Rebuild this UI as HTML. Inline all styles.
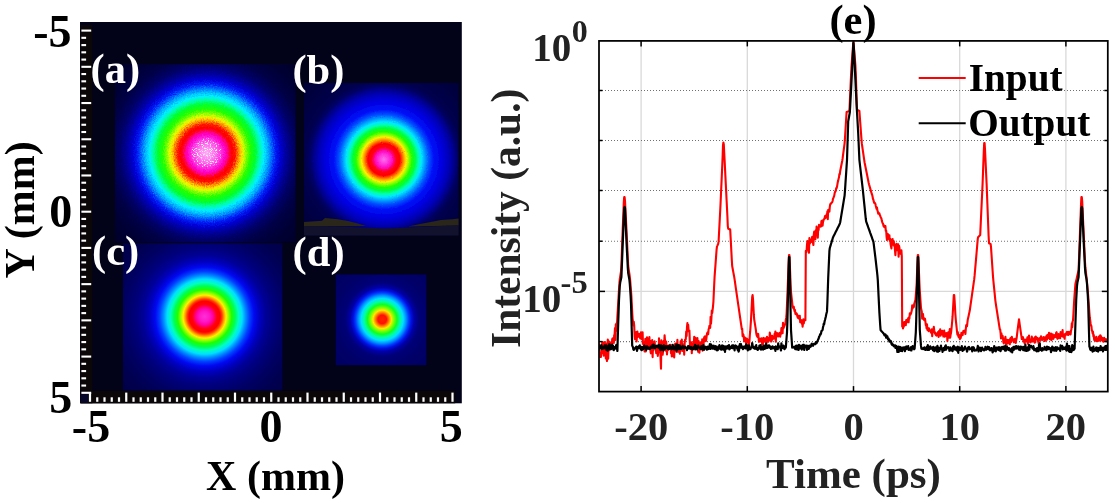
<!DOCTYPE html>
<html><head><meta charset="utf-8"><title>Beam profiles and autocorrelation</title>
<style>
html,body{margin:0;padding:0;background:#fff;}
body{width:1115px;height:503px;overflow:hidden;}
svg{display:block;}
text{font-family:"Liberation Serif","Times New Roman",serif;font-weight:bold;}
.k{fill:#000;}
.g{fill:#222;}
.w{fill:#fff;}
</style></head><body>
<svg width="1115" height="503" viewBox="0 0 1115 503">
<defs>
<radialGradient id="ga" gradientUnits="userSpaceOnUse" cx="206.5" cy="153.2" r="135.0"><stop offset="0.0000" stop-color="#ffb0f6"/><stop offset="0.0593" stop-color="#ff78f0"/><stop offset="0.1037" stop-color="#ff38e4"/><stop offset="0.1407" stop-color="#ff00c8"/><stop offset="0.1593" stop-color="#ff0088"/><stop offset="0.1741" stop-color="#ff0028"/><stop offset="0.1889" stop-color="#ff0000"/><stop offset="0.2111" stop-color="#ff1000"/><stop offset="0.2333" stop-color="#ff7000"/><stop offset="0.2556" stop-color="#ffd000"/><stop offset="0.2741" stop-color="#e0ff00"/><stop offset="0.2963" stop-color="#80ff00"/><stop offset="0.3259" stop-color="#20ff00"/><stop offset="0.3630" stop-color="#00ff30"/><stop offset="0.3926" stop-color="#00ffa0"/><stop offset="0.4222" stop-color="#00f0ff"/><stop offset="0.4556" stop-color="#00b0ff"/><stop offset="0.4852" stop-color="#0060ff"/><stop offset="0.5148" stop-color="#0018f4"/><stop offset="0.5481" stop-color="#0000d0"/><stop offset="0.5926" stop-color="#000098"/><stop offset="0.6444" stop-color="#000068"/><stop offset="0.7185" stop-color="#000046"/><stop offset="0.8296" stop-color="#000032"/><stop offset="1.0000" stop-color="#000024"/></radialGradient>
<radialGradient id="gb" gradientUnits="userSpaceOnUse" cx="383.9" cy="159.5" r="110.0"><stop offset="0.0000" stop-color="#ff70ec"/><stop offset="0.0364" stop-color="#ff40e0"/><stop offset="0.0727" stop-color="#ff10c8"/><stop offset="0.0955" stop-color="#ff0070"/><stop offset="0.1136" stop-color="#ff0010"/><stop offset="0.1455" stop-color="#ff0000"/><stop offset="0.1636" stop-color="#ff5000"/><stop offset="0.1864" stop-color="#ffb000"/><stop offset="0.2045" stop-color="#fff000"/><stop offset="0.2273" stop-color="#90ff00"/><stop offset="0.2545" stop-color="#20ff00"/><stop offset="0.2864" stop-color="#00ff40"/><stop offset="0.3136" stop-color="#00ffb0"/><stop offset="0.3409" stop-color="#00e8ff"/><stop offset="0.3727" stop-color="#00a0ff"/><stop offset="0.4091" stop-color="#0050ff"/><stop offset="0.4545" stop-color="#0010f8"/><stop offset="0.5273" stop-color="#0000e0"/><stop offset="0.5909" stop-color="#0000b8"/><stop offset="0.6364" stop-color="#00008c"/><stop offset="0.6727" stop-color="#000064"/><stop offset="0.7182" stop-color="#00004e"/><stop offset="0.8636" stop-color="#000040"/><stop offset="1.0000" stop-color="#000036"/></radialGradient>
<radialGradient id="gc" gradientUnits="userSpaceOnUse" cx="204.6" cy="316.6" r="120.0"><stop offset="0.0000" stop-color="#ff30d8"/><stop offset="0.0417" stop-color="#ff18c8"/><stop offset="0.0708" stop-color="#ff00a0"/><stop offset="0.0875" stop-color="#ff0050"/><stop offset="0.1042" stop-color="#ff0008"/><stop offset="0.1292" stop-color="#ff0000"/><stop offset="0.1458" stop-color="#ff4000"/><stop offset="0.1625" stop-color="#ffa000"/><stop offset="0.1792" stop-color="#fff000"/><stop offset="0.2000" stop-color="#90ff00"/><stop offset="0.2250" stop-color="#20ff00"/><stop offset="0.2542" stop-color="#00ff50"/><stop offset="0.2833" stop-color="#00ffc0"/><stop offset="0.3125" stop-color="#00e0ff"/><stop offset="0.3417" stop-color="#0090ff"/><stop offset="0.3750" stop-color="#0040ff"/><stop offset="0.4125" stop-color="#0008f0"/><stop offset="0.4583" stop-color="#0000c0"/><stop offset="0.5083" stop-color="#000098"/><stop offset="0.5750" stop-color="#00007c"/><stop offset="0.6667" stop-color="#000064"/><stop offset="0.7917" stop-color="#000050"/><stop offset="1.0000" stop-color="#000040"/></radialGradient>
<radialGradient id="gd" gradientUnits="userSpaceOnUse" cx="382.2" cy="319.4" r="70.0"><stop offset="0.0000" stop-color="#ff2000"/><stop offset="0.0614" stop-color="#ff1000"/><stop offset="0.0971" stop-color="#ff8000"/><stop offset="0.1314" stop-color="#ffe800"/><stop offset="0.1671" stop-color="#80ff00"/><stop offset="0.2114" stop-color="#10ff20"/><stop offset="0.2557" stop-color="#00ffa0"/><stop offset="0.3000" stop-color="#00e0ff"/><stop offset="0.3429" stop-color="#0090ff"/><stop offset="0.3786" stop-color="#0040ff"/><stop offset="0.4143" stop-color="#0010e0"/><stop offset="0.4571" stop-color="#0000a8"/><stop offset="0.5286" stop-color="#000078"/><stop offset="0.6857" stop-color="#000068"/><stop offset="1.0000" stop-color="#00005e"/></radialGradient>
<clipPath id="ca"><rect x="115" y="64.3" width="180.5" height="178"/></clipPath>
<clipPath id="cb"><rect x="304" y="83" width="154.6" height="152.4"/></clipPath>
<clipPath id="cp"><rect x="599.0" y="39.9" width="508.79999999999995" height="351.70000000000005"/></clipPath>
<filter id="nz" x="0" y="0" width="100%" height="100%"><feTurbulence type="fractalNoise" baseFrequency="0.9" numOctaves="1" seed="3" result="t"/><feDisplacementMap in="SourceGraphic" in2="t" scale="7" xChannelSelector="R" yChannelSelector="G"/></filter>
<filter id="spk" x="-10%" y="-10%" width="120%" height="120%"><feTurbulence type="fractalNoise" baseFrequency="0.85" numOctaves="1" seed="11" result="t"/><feColorMatrix in="t" type="matrix" values="0 0 0 0 1  0 0 0 0 1  0 0 0 0 1  9 0 0 0 -4.9" result="m"/><feComposite in="m" in2="SourceGraphic" operator="in"/></filter>
<filter id="nz2" x="0" y="0" width="100%" height="100%"><feTurbulence type="fractalNoise" baseFrequency="0.8" numOctaves="1" seed="5" result="t"/><feDisplacementMap in="SourceGraphic" in2="t" scale="2.5" xChannelSelector="R" yChannelSelector="G"/></filter>
</defs>
<rect width="1115" height="503" fill="#fff"/>
<!-- left panel -->
<rect x="80" y="22" width="381.8" height="381.3" fill="#020218"/>
<g clip-path="url(#ca)"><g filter="url(#nz)"><rect x="100" y="50" width="210" height="210" fill="url(#ga)"/></g></g>
<circle cx="206.5" cy="153.2" r="15" fill="#fff" filter="url(#spk)" opacity="0.9"/>
<g clip-path="url(#cb)"><g filter="url(#nz2)"><rect x="290" y="70" width="185" height="180" fill="url(#gb)"/></g>
<path d="M304 222 L322 220.8 L325 218 L338 219.3 L348 221 L357 223.2 L366 226 L304 226.5Z" fill="#2a2619"/>
<path d="M408 226.5 L420 224 L432 221.8 L441 220 L452 219.2 L459 218.6 L459 225.5Z" fill="#2a2619"/>
<path d="M304 226 Q345 226 384 228.6 Q425 226.5 459 225.2 L459 236 L304 236Z" fill="#12122c"/>
</g>
<rect x="123" y="243.3" width="159.4" height="147.4" fill="url(#gc)"/>
<rect x="335.7" y="274.5" width="90.7" height="90.7" fill="url(#gd)"/>
<rect x="80.6" y="25" width="11.8" height="378.3" fill="#0b0709"/>
<rect x="80.6" y="390.8" width="374.6" height="12.5" fill="#0b0709"/>
<rect x="80.6" y="394.2" width="7.4" height="8.4" fill="#07072a"/>
<g fill="#fff">
<rect x="81.4" y="29.55" width="9.8" height="2.1"/>
<rect x="81.4" y="36.79" width="4.7" height="2.1"/>
<rect x="81.4" y="44.04" width="4.7" height="2.1"/>
<rect x="81.4" y="51.28" width="4.7" height="2.1"/>
<rect x="81.4" y="58.53" width="4.7" height="2.1"/>
<rect x="81.4" y="65.77" width="9.8" height="2.1"/>
<rect x="81.4" y="73.01" width="4.7" height="2.1"/>
<rect x="81.4" y="80.26" width="4.7" height="2.1"/>
<rect x="81.4" y="87.50" width="4.7" height="2.1"/>
<rect x="81.4" y="94.75" width="4.7" height="2.1"/>
<rect x="81.4" y="101.99" width="9.8" height="2.1"/>
<rect x="81.4" y="109.23" width="4.7" height="2.1"/>
<rect x="81.4" y="116.48" width="4.7" height="2.1"/>
<rect x="81.4" y="123.72" width="4.7" height="2.1"/>
<rect x="81.4" y="130.97" width="4.7" height="2.1"/>
<rect x="81.4" y="138.21" width="9.8" height="2.1"/>
<rect x="81.4" y="145.45" width="4.7" height="2.1"/>
<rect x="81.4" y="152.70" width="4.7" height="2.1"/>
<rect x="81.4" y="159.94" width="4.7" height="2.1"/>
<rect x="81.4" y="167.19" width="4.7" height="2.1"/>
<rect x="81.4" y="174.43" width="9.8" height="2.1"/>
<rect x="81.4" y="181.67" width="4.7" height="2.1"/>
<rect x="81.4" y="188.92" width="4.7" height="2.1"/>
<rect x="81.4" y="196.16" width="4.7" height="2.1"/>
<rect x="81.4" y="203.41" width="4.7" height="2.1"/>
<rect x="81.4" y="210.65" width="9.8" height="2.1"/>
<rect x="81.4" y="217.89" width="4.7" height="2.1"/>
<rect x="81.4" y="225.14" width="4.7" height="2.1"/>
<rect x="81.4" y="232.38" width="4.7" height="2.1"/>
<rect x="81.4" y="239.63" width="4.7" height="2.1"/>
<rect x="81.4" y="246.87" width="9.8" height="2.1"/>
<rect x="81.4" y="254.11" width="4.7" height="2.1"/>
<rect x="81.4" y="261.36" width="4.7" height="2.1"/>
<rect x="81.4" y="268.60" width="4.7" height="2.1"/>
<rect x="81.4" y="275.85" width="4.7" height="2.1"/>
<rect x="81.4" y="283.09" width="9.8" height="2.1"/>
<rect x="81.4" y="290.33" width="4.7" height="2.1"/>
<rect x="81.4" y="297.58" width="4.7" height="2.1"/>
<rect x="81.4" y="304.82" width="4.7" height="2.1"/>
<rect x="81.4" y="312.07" width="4.7" height="2.1"/>
<rect x="81.4" y="319.31" width="9.8" height="2.1"/>
<rect x="81.4" y="326.55" width="4.7" height="2.1"/>
<rect x="81.4" y="333.80" width="4.7" height="2.1"/>
<rect x="81.4" y="341.04" width="4.7" height="2.1"/>
<rect x="81.4" y="348.29" width="4.7" height="2.1"/>
<rect x="81.4" y="355.53" width="9.8" height="2.1"/>
<rect x="81.4" y="362.77" width="4.7" height="2.1"/>
<rect x="81.4" y="370.02" width="4.7" height="2.1"/>
<rect x="81.4" y="377.26" width="4.7" height="2.1"/>
<rect x="81.4" y="384.51" width="4.7" height="2.1"/>
<rect x="81.4" y="391.75" width="9.8" height="2.1"/>
<rect x="88.90" y="392.6" width="2.2" height="9.2"/>
<rect x="96.15" y="397.3" width="2.2" height="4.5"/>
<rect x="103.40" y="397.3" width="2.2" height="4.5"/>
<rect x="110.65" y="397.3" width="2.2" height="4.5"/>
<rect x="117.90" y="397.3" width="2.2" height="4.5"/>
<rect x="125.15" y="392.6" width="2.2" height="9.2"/>
<rect x="132.40" y="397.3" width="2.2" height="4.5"/>
<rect x="139.65" y="397.3" width="2.2" height="4.5"/>
<rect x="146.90" y="397.3" width="2.2" height="4.5"/>
<rect x="154.15" y="397.3" width="2.2" height="4.5"/>
<rect x="161.40" y="392.6" width="2.2" height="9.2"/>
<rect x="168.65" y="397.3" width="2.2" height="4.5"/>
<rect x="175.90" y="397.3" width="2.2" height="4.5"/>
<rect x="183.15" y="397.3" width="2.2" height="4.5"/>
<rect x="190.40" y="397.3" width="2.2" height="4.5"/>
<rect x="197.65" y="392.6" width="2.2" height="9.2"/>
<rect x="204.90" y="397.3" width="2.2" height="4.5"/>
<rect x="212.15" y="397.3" width="2.2" height="4.5"/>
<rect x="219.40" y="397.3" width="2.2" height="4.5"/>
<rect x="226.65" y="397.3" width="2.2" height="4.5"/>
<rect x="233.90" y="392.6" width="2.2" height="9.2"/>
<rect x="241.15" y="397.3" width="2.2" height="4.5"/>
<rect x="248.40" y="397.3" width="2.2" height="4.5"/>
<rect x="255.65" y="397.3" width="2.2" height="4.5"/>
<rect x="262.90" y="397.3" width="2.2" height="4.5"/>
<rect x="270.15" y="392.6" width="2.2" height="9.2"/>
<rect x="277.40" y="397.3" width="2.2" height="4.5"/>
<rect x="284.65" y="397.3" width="2.2" height="4.5"/>
<rect x="291.90" y="397.3" width="2.2" height="4.5"/>
<rect x="299.15" y="397.3" width="2.2" height="4.5"/>
<rect x="306.40" y="392.6" width="2.2" height="9.2"/>
<rect x="313.65" y="397.3" width="2.2" height="4.5"/>
<rect x="320.90" y="397.3" width="2.2" height="4.5"/>
<rect x="328.15" y="397.3" width="2.2" height="4.5"/>
<rect x="335.40" y="397.3" width="2.2" height="4.5"/>
<rect x="342.65" y="392.6" width="2.2" height="9.2"/>
<rect x="349.90" y="397.3" width="2.2" height="4.5"/>
<rect x="357.15" y="397.3" width="2.2" height="4.5"/>
<rect x="364.40" y="397.3" width="2.2" height="4.5"/>
<rect x="371.65" y="397.3" width="2.2" height="4.5"/>
<rect x="378.90" y="392.6" width="2.2" height="9.2"/>
<rect x="386.15" y="397.3" width="2.2" height="4.5"/>
<rect x="393.40" y="397.3" width="2.2" height="4.5"/>
<rect x="400.65" y="397.3" width="2.2" height="4.5"/>
<rect x="407.90" y="397.3" width="2.2" height="4.5"/>
<rect x="415.15" y="392.6" width="2.2" height="9.2"/>
<rect x="422.40" y="397.3" width="2.2" height="4.5"/>
<rect x="429.65" y="397.3" width="2.2" height="4.5"/>
<rect x="436.90" y="397.3" width="2.2" height="4.5"/>
<rect x="444.15" y="397.3" width="2.2" height="4.5"/>
<rect x="451.40" y="392.6" width="2.2" height="9.2"/>
</g>
<g class="w" font-size="42.5">
<text x="90.6" y="82.8" class="w">(a)</text>
<text x="292.4" y="83.7" class="w">(b)</text>
<text x="92" y="265.2" class="w">(c)</text>
<text x="292.6" y="265.8" class="w">(d)</text>
</g>
<g class="k" font-size="46">
<text x="71.5" y="47.3" text-anchor="end">-5</text>
<text x="72.3" y="227.3" text-anchor="end">0</text>
<text x="72.3" y="412.5" text-anchor="end">5</text>
<text x="91" y="442.2" text-anchor="middle">-5</text>
<text x="271" y="442.2" text-anchor="middle">0</text>
<text x="451.3" y="442.2" text-anchor="middle">5</text>
</g>
<text class="k" font-size="42" x="275.5" y="489.5" text-anchor="middle">X (mm)</text>
<text class="k" font-size="42" transform="translate(34.1 209.8) rotate(-90)" text-anchor="middle">Y (mm)</text>
<!-- right panel -->
<g>
<line x1="641.1" y1="40.9" x2="641.1" y2="391.6" stroke="#d9d9d9" stroke-width="1.3"/>
<line x1="747.3" y1="40.9" x2="747.3" y2="391.6" stroke="#d9d9d9" stroke-width="1.3"/>
<line x1="853.5" y1="40.9" x2="853.5" y2="391.6" stroke="#d9d9d9" stroke-width="1.3"/>
<line x1="959.7" y1="40.9" x2="959.7" y2="391.6" stroke="#d9d9d9" stroke-width="1.3"/>
<line x1="1065.9" y1="40.9" x2="1065.9" y2="391.6" stroke="#d9d9d9" stroke-width="1.3"/>
<line x1="599.0" y1="90.5" x2="1107.8" y2="90.5" stroke="#707070" stroke-width="1.05" stroke-dasharray="1 2"/>
<line x1="599.0" y1="140.5" x2="1107.8" y2="140.5" stroke="#707070" stroke-width="1.05" stroke-dasharray="1 2"/>
<line x1="599.0" y1="190.5" x2="1107.8" y2="190.5" stroke="#707070" stroke-width="1.05" stroke-dasharray="1 2"/>
<line x1="599.0" y1="241.2" x2="1107.8" y2="241.2" stroke="#707070" stroke-width="1.05" stroke-dasharray="1 2"/>
<line x1="599.0" y1="291.4" x2="1107.8" y2="291.4" stroke="#d9d9d9" stroke-width="1.3"/>
<line x1="599.0" y1="341.6" x2="1107.8" y2="341.6" stroke="#707070" stroke-width="1.05" stroke-dasharray="1 2"/>
</g>
<g clip-path="url(#cp)" fill="none" stroke-linejoin="round" stroke-linecap="round">
<path d="M598.6 351.3 L599.0 355.5 L599.4 344.6 L599.8 356.5 L600.2 353.9 L600.6 357.0 L601.0 356.8 L601.4 352.7 L601.8 353.4 L602.2 342.3 L602.6 344.2 L603.0 346.0 L603.4 349.3 L603.8 355.7 L604.2 342.1 L604.6 349.4 L605.0 344.4 L605.4 343.2 L605.8 358.4 L606.2 351.2 L606.6 358.4 L607.0 361.0 L607.4 344.6 L607.8 339.5 L608.2 358.6 L608.6 345.7 L609.0 341.5 L609.4 350.2 L609.8 347.5 L610.2 342.2 L610.6 342.9 L611.0 344.6 L611.4 343.2 L611.8 345.7 L612.2 339.3 L612.6 338.4 L613.0 342.3 L613.4 339.9 L613.8 342.9 L614.2 335.1 L614.6 334.6 L615.0 328.0 L615.4 340.0 L615.8 324.3 L616.2 331.0 L616.6 323.2 L617.0 323.8 L617.4 316.3 L617.8 309.5 L618.2 302.8 L618.6 296.0 L619.0 289.6 L619.4 283.2 L619.8 278.8 L620.2 276.3 L620.6 273.8 L621.0 271.3 L621.4 264.6 L621.8 253.7 L622.2 242.9 L622.6 232.0 L623.0 222.0 L623.4 212.0 L623.8 202.0 L624.2 197.0 L624.6 197.0 L625.0 200.9 L625.4 208.7 L625.8 216.4 L626.2 224.2 L626.6 232.0 L627.0 240.5 L627.4 249.0 L627.8 257.5 L628.2 266.0 L628.6 268.7 L629.0 271.3 L629.4 274.0 L629.8 276.7 L630.2 280.6 L630.6 285.7 L631.0 290.9 L631.4 296.0 L631.8 304.0 L632.2 312.0 L632.6 318.8 L633.0 322.0 L633.4 325.4 L633.8 321.9 L634.2 325.5 L634.6 336.0 L635.0 339.2 L635.4 335.1 L635.8 335.2 L636.2 332.0 L636.6 341.5 L637.0 335.3 L637.4 331.6 L637.8 335.0 L638.2 336.7 L638.6 334.0 L639.0 336.6 L639.4 336.9 L639.8 333.8 L640.2 338.4 L640.6 336.8 L641.0 332.3 L641.4 338.5 L641.8 339.0 L642.2 338.0 L642.6 332.4 L643.0 344.0 L643.4 343.9 L643.8 344.0 L644.2 342.9 L644.6 351.4 L645.0 342.6 L645.4 338.7 L645.8 351.4 L646.2 340.8 L646.6 345.8 L647.0 337.2 L647.4 338.9 L647.8 341.7 L648.2 346.9 L648.6 346.4 L649.0 345.5 L649.4 337.1 L649.8 349.2 L650.2 340.7 L650.6 352.1 L651.0 353.3 L651.4 348.9 L651.8 349.8 L652.2 340.0 L652.6 357.1 L653.0 346.8 L653.4 350.4 L653.8 342.4 L654.2 346.0 L654.6 341.3 L655.0 345.6 L655.4 346.8 L655.8 348.1 L656.2 353.1 L656.6 349.1 L657.0 348.1 L657.4 347.2 L657.8 355.9 L658.2 351.9 L658.6 352.3 L659.0 338.4 L659.4 343.2 L659.8 348.9 L660.2 346.4 L660.6 360.3 L661.0 368.7 L661.4 340.4 L661.8 342.4 L662.2 346.5 L662.6 354.8 L663.0 352.1 L663.4 348.6 L663.8 340.9 L664.2 343.4 L664.6 335.3 L665.0 340.4 L665.4 349.1 L665.8 350.7 L666.2 341.5 L666.6 347.7 L667.0 354.4 L667.4 347.9 L667.8 345.9 L668.2 349.9 L668.6 349.6 L669.0 347.6 L669.4 344.9 L669.8 345.4 L670.2 347.7 L670.6 344.9 L671.0 353.2 L671.4 351.2 L671.8 356.4 L672.2 356.2 L672.6 354.3 L673.0 353.6 L673.4 349.0 L673.8 346.5 L674.2 357.5 L674.6 344.4 L675.0 344.6 L675.4 343.5 L675.8 348.3 L676.2 349.2 L676.6 351.9 L677.0 346.4 L677.4 339.8 L677.8 348.8 L678.2 351.7 L678.6 347.6 L679.0 346.8 L679.4 349.9 L679.8 353.7 L680.2 347.2 L680.6 341.2 L681.0 345.0 L681.4 346.7 L681.8 339.5 L682.2 350.9 L682.6 344.1 L683.0 349.7 L683.4 348.3 L683.8 346.1 L684.2 354.7 L684.6 344.1 L685.0 339.8 L685.4 340.2 L685.8 338.9 L686.2 331.5 L686.6 336.0 L687.0 327.1 L687.4 323.0 L687.8 331.3 L688.2 324.9 L688.6 330.6 L689.0 330.9 L689.4 330.5 L689.8 341.2 L690.2 348.4 L690.6 343.0 L691.0 344.5 L691.4 342.2 L691.8 353.2 L692.2 344.5 L692.6 349.8 L693.0 343.4 L693.4 347.5 L693.8 344.4 L694.2 336.7 L694.6 347.4 L695.0 349.3 L695.4 337.7 L695.8 346.1 L696.2 344.9 L696.6 342.0 L697.0 345.6 L697.4 338.1 L697.8 347.7 L698.2 351.8 L698.6 341.0 L699.0 346.2 L699.4 352.7 L699.8 346.9 L700.2 344.1 L700.6 342.3 L701.0 347.0 L701.4 347.3 L701.8 348.9 L702.2 339.4 L702.6 350.8 L703.0 349.4 L703.4 347.7 L703.8 340.6 L704.2 337.0 L704.6 339.1 L705.0 336.3 L705.4 337.8 L705.8 341.2 L706.2 340.0 L706.6 336.6 L707.0 333.6 L707.4 332.6 L707.8 334.0 L708.2 334.2 L708.6 329.3 L709.0 328.6 L709.4 325.9 L709.8 327.1 L710.2 327.8 L710.6 316.9 L711.0 323.6 L711.4 318.3 L711.8 310.6 L712.2 313.1 L712.6 309.8 L713.0 306.5 L713.4 301.8 L713.8 293.2 L714.2 284.5 L714.6 276.6 L715.0 271.2 L715.4 265.8 L715.8 260.4 L716.2 254.9 L716.6 249.5 L717.0 246.4 L717.4 245.6 L717.8 244.7 L718.2 243.9 L718.6 241.4 L719.0 233.7 L719.4 226.1 L719.8 218.5 L720.2 210.8 L720.6 202.5 L721.0 193.6 L721.4 184.6 L721.8 175.7 L722.2 166.7 L722.6 157.1 L723.0 145.4 L723.4 142.5 L723.8 144.4 L724.2 152.2 L724.6 160.0 L725.0 168.0 L725.4 176.1 L725.8 184.1 L726.2 192.2 L726.6 200.2 L727.0 208.3 L727.4 216.3 L727.8 226.1 L728.2 228.7 L728.6 228.9 L729.0 229.0 L729.4 229.2 L729.8 229.3 L730.2 229.5 L730.6 237.1 L731.0 244.7 L731.4 252.3 L731.8 259.9 L732.2 266.1 L732.6 268.3 L733.0 270.5 L733.4 272.6 L733.8 274.8 L734.2 276.9 L734.6 279.4 L735.0 282.2 L735.4 285.0 L735.8 287.8 L736.2 290.6 L736.6 293.4 L737.0 296.2 L737.4 298.9 L737.8 301.7 L738.2 304.4 L738.6 307.2 L739.0 309.9 L739.4 312.7 L739.8 315.4 L740.2 318.2 L740.6 320.9 L741.0 323.7 L741.4 326.4 L741.8 329.2 L742.2 328.7 L742.6 336.2 L743.0 334.0 L743.4 334.7 L743.8 337.4 L744.2 341.3 L744.6 337.3 L745.0 341.5 L745.4 341.1 L745.8 338.4 L746.2 343.8 L746.6 340.2 L747.0 338.8 L747.4 340.1 L747.8 340.1 L748.2 342.6 L748.6 339.8 L749.0 344.1 L749.4 341.5 L749.8 335.4 L750.2 331.2 L750.6 325.6 L751.0 320.0 L751.4 312.3 L751.8 304.6 L752.2 296.9 L752.6 295.0 L753.0 298.8 L753.4 306.5 L753.8 314.2 L754.2 319.3 L754.6 321.8 L755.0 324.3 L755.4 326.8 L755.8 329.3 L756.2 332.8 L756.6 335.1 L757.0 336.0 L757.4 336.8 L757.8 335.2 L758.2 333.9 L758.6 338.5 L759.0 341.8 L759.4 341.3 L759.8 338.9 L760.2 341.5 L760.6 338.9 L761.0 340.9 L761.4 338.4 L761.8 340.2 L762.2 344.6 L762.6 341.7 L763.0 343.4 L763.4 337.9 L763.8 338.0 L764.2 339.6 L764.6 341.0 L765.0 339.1 L765.4 342.0 L765.8 338.2 L766.2 342.8 L766.6 341.8 L767.0 336.7 L767.4 340.8 L767.8 338.8 L768.2 341.8 L768.6 338.0 L769.0 340.0 L769.4 340.5 L769.8 332.6 L770.2 334.6 L770.6 339.4 L771.0 338.8 L771.4 341.5 L771.8 339.6 L772.2 335.8 L772.6 339.4 L773.0 336.6 L773.4 337.6 L773.8 336.6 L774.2 338.4 L774.6 333.9 L775.0 334.4 L775.4 331.5 L775.8 341.7 L776.2 333.9 L776.6 334.0 L777.0 333.0 L777.4 334.0 L777.8 334.2 L778.2 336.5 L778.6 335.2 L779.0 335.3 L779.4 332.9 L779.8 333.8 L780.2 336.7 L780.6 333.5 L781.0 334.0 L781.4 328.1 L781.8 333.3 L782.2 331.8 L782.6 333.3 L783.0 322.7 L783.4 328.5 L783.8 327.2 L784.2 326.8 L784.6 324.2 L785.0 324.9 L785.4 323.8 L785.8 320.0 L786.2 317.7 L786.6 313.6 L787.0 304.2 L787.4 294.7 L787.8 284.6 L788.2 273.8 L788.6 263.1 L789.0 255.0 L789.4 255.0 L789.8 263.1 L790.2 273.8 L790.6 284.6 L791.0 291.8 L791.4 295.5 L791.8 299.2 L792.2 302.8 L792.6 306.5 L793.0 307.3 L793.4 308.3 L793.8 306.8 L794.2 309.5 L794.6 311.4 L795.0 310.0 L795.4 313.9 L795.8 312.8 L796.2 314.4 L796.6 313.5 L797.0 314.3 L797.4 316.6 L797.8 317.7 L798.2 318.1 L798.6 315.9 L799.0 317.0 L799.4 318.9 L799.8 315.7 L800.2 322.1 L800.6 321.1 L801.0 321.1 L801.4 320.1 L801.8 323.7 L802.2 322.0 L802.6 326.6 L803.0 323.3 L803.4 319.2 L803.8 323.3 L804.2 320.4 L804.6 320.1 L805.0 320.3 L805.4 320.2 L805.8 250.9 L806.2 252.5 L806.6 250.5 L807.0 244.6 L807.4 241.1 L807.8 242.9 L808.2 247.5 L808.6 249.2 L809.0 252.8 L809.4 238.0 L809.8 243.7 L810.2 241.7 L810.6 240.3 L811.0 242.1 L811.4 239.7 L811.8 239.0 L812.2 236.7 L812.6 240.7 L813.0 243.0 L813.4 245.0 L813.8 234.7 L814.2 231.6 L814.6 234.6 L815.0 231.4 L815.4 239.1 L815.8 230.2 L816.2 233.6 L816.6 226.5 L817.0 230.4 L817.4 232.2 L817.8 237.6 L818.2 228.8 L818.6 230.3 L819.0 224.7 L819.4 225.7 L819.8 225.7 L820.2 225.6 L820.6 226.7 L821.0 226.4 L821.4 221.1 L821.8 224.6 L822.2 220.6 L822.6 225.7 L823.0 221.9 L823.4 220.8 L823.8 219.4 L824.2 219.0 L824.6 218.3 L825.0 216.1 L825.4 218.2 L825.8 216.5 L826.2 216.7 L826.6 214.3 L827.0 215.1 L827.4 211.4 L827.8 219.3 L828.2 210.0 L828.6 209.8 L829.0 211.8 L829.4 211.6 L829.8 206.8 L830.2 204.3 L830.6 204.1 L831.0 203.6 L831.4 202.7 L831.8 202.6 L832.2 202.3 L832.6 201.0 L833.0 198.7 L833.4 198.0 L833.8 196.9 L834.2 195.9 L834.6 193.6 L835.0 192.0 L835.4 191.5 L835.8 190.7 L836.2 188.1 L836.6 188.3 L837.0 186.8 L837.4 184.3 L837.8 182.0 L838.2 180.6 L838.6 178.7 L839.0 177.3 L839.4 174.0 L839.8 174.4 L840.2 171.0 L840.6 169.0 L841.0 167.0 L841.4 165.0 L841.8 163.0 L842.2 161.0 L842.6 158.5 L843.0 155.4 L843.4 152.4 L843.8 149.3 L844.2 146.3 L844.6 143.3 L845.0 137.7 L845.4 131.3 L845.8 124.8 L846.2 118.4 L846.6 112.0 L847.0 111.9 L847.4 111.7 L847.8 111.6 L848.2 111.4 L848.6 111.3 L849.0 111.1 L849.4 111.0 L849.8 102.3 L850.2 93.6 L850.6 84.9 L851.0 76.2 L851.4 67.5 L851.8 62.2 L852.2 56.9 L852.6 51.6 L853.0 46.3 L853.4 41.0 L853.8 45.8 L854.2 50.6 L854.6 55.5 L855.0 60.3 L855.4 65.1 L855.8 73.5 L856.2 85.6 L856.6 97.6 L857.0 109.7 L857.4 109.9 L857.8 110.1 L858.2 110.3 L858.6 110.6 L859.0 110.8 L859.4 111.0 L859.8 116.5 L860.2 122.0 L860.6 127.4 L861.0 132.9 L861.4 138.4 L861.8 143.2 L862.2 146.0 L862.6 148.8 L863.0 151.6 L863.4 154.3 L863.8 157.1 L864.2 159.9 L864.6 162.5 L865.0 164.5 L865.4 166.5 L865.8 168.5 L866.2 170.5 L866.6 172.5 L867.0 174.5 L867.4 176.5 L867.8 178.5 L868.2 180.5 L868.6 182.5 L869.0 184.2 L869.4 185.6 L869.8 187.0 L870.2 188.4 L870.6 189.8 L871.0 191.2 L871.4 192.6 L871.8 194.0 L872.2 194.9 L872.6 196.7 L873.0 199.0 L873.4 199.8 L873.8 201.7 L874.2 202.9 L874.6 202.7 L875.0 203.2 L875.4 204.0 L875.8 205.9 L876.2 207.4 L876.6 208.9 L877.0 207.6 L877.4 210.4 L877.8 211.5 L878.2 213.6 L878.6 212.8 L879.0 213.6 L879.4 213.4 L879.8 215.0 L880.2 215.8 L880.6 216.9 L881.0 217.9 L881.4 218.4 L881.8 220.6 L882.2 222.0 L882.6 223.3 L883.0 223.6 L883.4 225.5 L883.8 226.5 L884.2 225.4 L884.6 227.4 L885.0 227.6 L885.4 226.0 L885.8 230.9 L886.2 230.7 L886.6 237.1 L887.0 240.0 L887.4 235.2 L887.8 233.9 L888.2 234.9 L888.6 236.2 L889.0 239.1 L889.4 235.4 L889.8 240.9 L890.2 238.9 L890.6 244.3 L891.0 246.2 L891.4 248.4 L891.8 242.6 L892.2 239.3 L892.6 239.0 L893.0 244.7 L893.4 241.6 L893.8 241.2 L894.2 246.0 L894.6 244.2 L895.0 250.4 L895.4 255.1 L895.8 247.9 L896.2 250.1 L896.6 243.8 L897.0 250.3 L897.4 247.6 L897.8 246.5 L898.2 244.2 L898.6 256.6 L899.0 245.7 L899.4 247.5 L899.8 252.1 L900.2 253.4 L900.6 253.8 L901.0 253.5 L901.4 250.3 L901.8 256.4 L902.2 326.6 L902.6 323.3 L903.0 328.5 L903.4 324.7 L903.8 326.7 L904.2 322.0 L904.6 322.2 L905.0 322.9 L905.4 322.4 L905.8 325.2 L906.2 320.1 L906.6 322.6 L907.0 319.7 L907.4 321.6 L907.8 320.3 L908.2 318.1 L908.6 322.3 L909.0 317.4 L909.4 318.6 L909.8 313.4 L910.2 314.8 L910.6 314.4 L911.0 313.6 L911.4 311.9 L911.8 310.3 L912.2 305.4 L912.6 308.5 L913.0 306.5 L913.4 306.4 L913.8 307.0 L914.2 304.1 L914.6 302.8 L915.0 301.4 L915.4 300.0 L915.8 295.0 L916.2 290.0 L916.6 285.0 L917.0 274.1 L917.4 263.2 L917.8 255.0 L918.2 255.0 L918.6 262.6 L919.0 272.8 L919.4 282.9 L919.8 290.9 L920.2 296.6 L920.6 302.3 L921.0 308.0 L921.4 309.9 L921.8 311.8 L922.2 318.8 L922.6 316.0 L923.0 314.1 L923.4 318.5 L923.8 318.0 L924.2 320.1 L924.6 319.7 L925.0 318.8 L925.4 321.5 L925.8 325.2 L926.2 325.3 L926.6 328.3 L927.0 324.3 L927.4 329.9 L927.8 328.0 L928.2 328.5 L928.6 331.1 L929.0 328.3 L929.4 329.4 L929.8 330.5 L930.2 330.8 L930.6 331.4 L931.0 332.7 L931.4 331.3 L931.8 329.4 L932.2 336.1 L932.6 330.9 L933.0 332.0 L933.4 329.8 L933.8 326.9 L934.2 330.2 L934.6 332.3 L935.0 333.6 L935.4 332.8 L935.8 334.7 L936.2 335.4 L936.6 335.6 L937.0 333.6 L937.4 333.8 L937.8 333.2 L938.2 331.8 L938.6 336.9 L939.0 331.1 L939.4 333.7 L939.8 334.4 L940.2 329.2 L940.6 335.6 L941.0 333.2 L941.4 334.6 L941.8 333.4 L942.2 330.8 L942.6 334.6 L943.0 334.5 L943.4 336.5 L943.8 335.4 L944.2 330.6 L944.6 336.8 L945.0 336.2 L945.4 336.2 L945.8 335.6 L946.2 333.0 L946.6 335.8 L947.0 333.8 L947.4 341.0 L947.8 334.2 L948.2 332.3 L948.6 334.0 L949.0 337.8 L949.4 333.3 L949.8 329.1 L950.2 337.6 L950.6 334.9 L951.0 333.0 L951.4 329.7 L951.8 325.5 L952.2 321.2 L952.6 316.2 L953.0 309.2 L953.4 302.1 L953.8 295.0 L954.2 295.0 L954.6 300.3 L955.0 307.4 L955.4 314.5 L955.8 319.9 L956.2 323.7 L956.6 327.5 L957.0 331.3 L957.4 334.5 L957.8 332.0 L958.2 335.4 L958.6 337.1 L959.0 335.4 L959.4 335.1 L959.8 339.0 L960.2 335.8 L960.6 338.2 L961.0 336.4 L961.4 332.8 L961.8 333.4 L962.2 334.3 L962.6 335.1 L963.0 332.5 L963.4 330.9 L963.8 331.3 L964.2 331.8 L964.6 330.7 L965.0 330.9 L965.4 334.0 L965.8 329.1 L966.2 325.1 L966.6 324.9 L967.0 326.3 L967.4 322.6 L967.8 319.4 L968.2 317.7 L968.6 315.9 L969.0 314.1 L969.4 312.3 L969.8 310.3 L970.2 307.5 L970.6 304.7 L971.0 301.9 L971.4 299.1 L971.8 296.3 L972.2 293.4 L972.6 290.6 L973.0 287.8 L973.4 285.0 L973.8 282.2 L974.2 279.4 L974.6 275.7 L975.0 271.0 L975.4 266.4 L975.8 261.8 L976.2 257.1 L976.6 252.5 L977.0 247.8 L977.4 243.2 L977.8 238.6 L978.2 237.1 L978.6 236.7 L979.0 236.3 L979.4 235.8 L979.8 235.4 L980.2 235.0 L980.6 226.4 L981.0 217.8 L981.4 209.3 L981.8 200.7 L982.2 192.1 L982.6 183.5 L983.0 172.7 L983.4 161.9 L983.8 151.1 L984.2 143.0 L984.6 143.0 L985.0 149.4 L985.4 157.9 L985.8 166.4 L986.2 175.0 L986.6 183.5 L987.0 193.9 L987.4 204.3 L987.8 214.8 L988.2 225.2 L988.6 235.6 L989.0 243.3 L989.4 243.5 L989.8 243.6 L990.2 243.8 L990.6 243.9 L991.0 247.0 L991.4 252.9 L991.8 258.8 L992.2 264.7 L992.6 270.6 L993.0 276.5 L993.4 281.0 L993.8 284.9 L994.2 288.9 L994.6 292.9 L995.0 296.8 L995.4 300.8 L995.8 303.7 L996.2 306.3 L996.6 308.9 L997.0 311.4 L997.4 314.0 L997.8 316.6 L998.2 319.1 L998.6 321.7 L999.0 324.3 L999.4 326.9 L999.8 329.4 L1000.2 329.7 L1000.6 333.0 L1001.0 338.4 L1001.4 333.3 L1001.8 336.9 L1002.2 335.8 L1002.6 335.7 L1003.0 338.5 L1003.4 342.4 L1003.8 343.4 L1004.2 339.3 L1004.6 340.1 L1005.0 339.2 L1005.4 336.8 L1005.8 342.2 L1006.2 344.0 L1006.6 343.9 L1007.0 339.9 L1007.4 343.5 L1007.8 343.0 L1008.2 340.1 L1008.6 340.7 L1009.0 340.0 L1009.4 341.2 L1009.8 344.3 L1010.2 338.8 L1010.6 338.2 L1011.0 342.3 L1011.4 340.6 L1011.8 336.7 L1012.2 338.4 L1012.6 338.8 L1013.0 339.2 L1013.4 341.0 L1013.8 342.3 L1014.2 340.0 L1014.6 340.6 L1015.0 338.8 L1015.4 342.3 L1015.8 342.9 L1016.2 340.0 L1016.6 338.3 L1017.0 335.0 L1017.4 331.7 L1017.8 328.5 L1018.2 325.5 L1018.6 322.4 L1019.0 319.4 L1019.4 322.2 L1019.8 325.1 L1020.2 327.9 L1020.6 330.7 L1021.0 333.5 L1021.4 336.2 L1021.8 339.0 L1022.2 338.9 L1022.6 338.1 L1023.0 337.1 L1023.4 341.5 L1023.8 340.2 L1024.2 341.5 L1024.6 343.4 L1025.0 339.6 L1025.4 341.6 L1025.8 339.8 L1026.2 340.5 L1026.6 341.3 L1027.0 340.2 L1027.4 337.3 L1027.8 343.6 L1028.2 340.7 L1028.6 337.9 L1029.0 335.6 L1029.4 340.1 L1029.8 341.5 L1030.2 342.2 L1030.6 342.4 L1031.0 339.2 L1031.4 341.3 L1031.8 336.6 L1032.2 340.1 L1032.6 341.6 L1033.0 338.4 L1033.4 339.3 L1033.8 339.8 L1034.2 339.8 L1034.6 342.6 L1035.0 337.1 L1035.4 342.1 L1035.8 336.6 L1036.2 337.8 L1036.6 337.5 L1037.0 338.9 L1037.4 338.0 L1037.8 340.0 L1038.2 338.9 L1038.6 343.5 L1039.0 339.6 L1039.4 338.2 L1039.8 339.5 L1040.2 339.9 L1040.6 338.2 L1041.0 336.2 L1041.4 336.7 L1041.8 338.8 L1042.2 340.1 L1042.6 339.3 L1043.0 338.0 L1043.4 339.3 L1043.8 337.1 L1044.2 338.6 L1044.6 341.0 L1045.0 340.3 L1045.4 340.7 L1045.8 337.0 L1046.2 338.2 L1046.6 335.6 L1047.0 339.6 L1047.4 336.7 L1047.8 334.7 L1048.2 336.4 L1048.6 337.9 L1049.0 332.7 L1049.4 334.3 L1049.8 339.3 L1050.2 337.3 L1050.6 336.9 L1051.0 333.6 L1051.4 340.2 L1051.8 338.9 L1052.2 338.2 L1052.6 334.2 L1053.0 337.7 L1053.4 338.8 L1053.8 335.6 L1054.2 335.7 L1054.6 335.1 L1055.0 337.3 L1055.4 335.4 L1055.8 335.2 L1056.2 332.7 L1056.6 332.2 L1057.0 337.5 L1057.4 338.8 L1057.8 337.2 L1058.2 338.3 L1058.6 334.1 L1059.0 335.0 L1059.4 335.8 L1059.8 334.6 L1060.2 338.3 L1060.6 332.0 L1061.0 333.4 L1061.4 333.8 L1061.8 333.0 L1062.2 336.1 L1062.6 330.1 L1063.0 336.6 L1063.4 336.0 L1063.8 334.7 L1064.2 336.8 L1064.6 338.8 L1065.0 334.1 L1065.4 335.2 L1065.8 334.4 L1066.2 334.6 L1066.6 332.3 L1067.0 331.8 L1067.4 334.5 L1067.8 332.0 L1068.2 335.0 L1068.6 334.6 L1069.0 331.9 L1069.4 333.5 L1069.8 332.8 L1070.2 332.3 L1070.6 334.5 L1071.0 330.7 L1071.4 329.5 L1071.8 323.4 L1072.2 327.2 L1072.6 321.4 L1073.0 320.6 L1073.4 314.2 L1073.8 307.1 L1074.2 300.0 L1074.6 294.7 L1075.0 289.3 L1075.4 284.0 L1075.8 282.3 L1076.2 280.6 L1076.6 278.9 L1077.0 277.1 L1077.4 275.3 L1077.8 273.6 L1078.2 271.8 L1078.6 270.0 L1079.0 259.1 L1079.4 248.3 L1079.8 237.4 L1080.2 226.6 L1080.6 215.8 L1081.0 205.1 L1081.4 197.0 L1081.8 197.0 L1082.2 201.4 L1082.6 210.1 L1083.0 218.9 L1083.4 227.6 L1083.8 236.2 L1084.2 244.7 L1084.6 253.2 L1085.0 261.7 L1085.4 267.7 L1085.8 271.2 L1086.2 274.7 L1086.6 278.2 L1087.0 282.3 L1087.4 286.9 L1087.8 291.4 L1088.2 296.0 L1088.6 301.7 L1089.0 307.4 L1089.4 313.1 L1089.8 317.5 L1090.2 320.5 L1090.6 323.5 L1091.0 325.7 L1091.4 326.1 L1091.8 330.6 L1092.2 330.3 L1092.6 333.3 L1093.0 331.8 L1093.4 336.4 L1093.8 335.1 L1094.2 340.0 L1094.6 339.0 L1095.0 338.5 L1095.4 340.8 L1095.8 338.6 L1096.2 336.7 L1096.6 341.2 L1097.0 339.0 L1097.4 340.9 L1097.8 338.9 L1098.2 341.0 L1098.6 337.1 L1099.0 336.4 L1099.4 336.3 L1099.8 340.7 L1100.2 335.4 L1100.6 335.7 L1101.0 336.5 L1101.4 339.8 L1101.8 340.2 L1102.2 337.7 L1102.6 340.9 L1103.0 339.9 L1103.4 341.7 L1103.8 341.2 L1104.2 337.9 L1104.6 339.7 L1105.0 339.0 L1105.4 340.2 L1105.8 339.7 L1106.2 339.4 L1106.6 340.7 L1107.0 339.4 L1107.4 340.8 L1107.8 339.4 L1108.2 339.0" stroke="#ff0000" stroke-width="2.1"/>
<path d="M598.6 350.1 L599.0 346.9 L599.4 347.6 L599.8 348.2 L600.2 346.4 L600.6 347.6 L601.0 347.6 L601.4 345.0 L601.8 349.1 L602.2 348.5 L602.6 346.7 L603.0 347.3 L603.4 348.4 L603.8 347.2 L604.2 347.2 L604.6 345.4 L605.0 348.4 L605.4 347.8 L605.8 348.0 L606.2 345.3 L606.6 350.1 L607.0 347.8 L607.4 347.0 L607.8 350.6 L608.2 347.5 L608.6 345.4 L609.0 347.0 L609.4 344.2 L609.8 349.2 L610.2 347.0 L610.6 346.5 L611.0 349.2 L611.4 345.1 L611.8 348.4 L612.2 344.5 L612.6 346.6 L613.0 345.8 L613.4 349.8 L613.8 350.2 L614.2 347.1 L614.6 348.9 L615.0 347.3 L615.4 348.5 L615.8 346.5 L616.2 345.0 L616.6 344.9 L617.0 348.2 L617.4 351.0 L617.8 336.1 L618.2 323.8 L618.6 311.9 L619.0 300.0 L619.4 292.9 L619.8 285.8 L620.2 282.6 L620.6 280.7 L621.0 278.9 L621.4 277.0 L621.8 267.1 L622.2 257.3 L622.6 247.4 L623.0 237.6 L623.4 227.8 L623.8 218.0 L624.2 208.2 L624.6 207.0 L625.0 208.1 L625.4 217.2 L625.8 226.3 L626.2 235.4 L626.6 244.0 L627.0 252.0 L627.4 260.0 L627.8 268.0 L628.2 273.1 L628.6 275.4 L629.0 277.6 L629.4 279.9 L629.8 283.9 L630.2 289.8 L630.6 295.6 L631.0 303.5 L631.4 317.5 L631.8 331.6 L632.2 345.6 L632.6 346.4 L633.0 347.2 L633.4 349.5 L633.8 349.9 L634.2 348.6 L634.6 348.4 L635.0 348.6 L635.4 347.6 L635.8 347.5 L636.2 346.6 L636.6 347.5 L637.0 351.0 L637.4 348.9 L637.8 347.1 L638.2 346.9 L638.6 346.3 L639.0 348.2 L639.4 348.2 L639.8 345.4 L640.2 348.3 L640.6 346.7 L641.0 349.7 L641.4 347.8 L641.8 350.2 L642.2 346.9 L642.6 347.2 L643.0 348.0 L643.4 349.2 L643.8 348.4 L644.2 345.7 L644.6 347.9 L645.0 347.6 L645.4 347.0 L645.8 346.6 L646.2 350.2 L646.6 347.0 L647.0 346.3 L647.4 348.6 L647.8 347.8 L648.2 347.5 L648.6 348.8 L649.0 348.3 L649.4 348.1 L649.8 349.0 L650.2 348.0 L650.6 346.7 L651.0 347.1 L651.4 346.8 L651.8 347.9 L652.2 346.0 L652.6 344.9 L653.0 347.7 L653.4 345.6 L653.8 344.7 L654.2 348.2 L654.6 346.5 L655.0 348.3 L655.4 346.8 L655.8 345.9 L656.2 345.7 L656.6 346.8 L657.0 347.2 L657.4 346.4 L657.8 347.2 L658.2 345.3 L658.6 347.6 L659.0 344.9 L659.4 347.3 L659.8 348.6 L660.2 349.2 L660.6 350.2 L661.0 345.3 L661.4 348.7 L661.8 349.4 L662.2 349.1 L662.6 346.2 L663.0 348.2 L663.4 350.4 L663.8 345.4 L664.2 348.3 L664.6 349.3 L665.0 346.6 L665.4 348.5 L665.8 346.0 L666.2 346.4 L666.6 346.4 L667.0 347.9 L667.4 347.5 L667.8 349.0 L668.2 346.2 L668.6 347.4 L669.0 349.0 L669.4 348.4 L669.8 345.6 L670.2 348.6 L670.6 346.9 L671.0 348.2 L671.4 348.1 L671.8 349.4 L672.2 347.8 L672.6 344.8 L673.0 345.5 L673.4 348.7 L673.8 347.2 L674.2 349.3 L674.6 348.0 L675.0 346.5 L675.4 349.2 L675.8 346.4 L676.2 344.5 L676.6 350.7 L677.0 344.7 L677.4 348.6 L677.8 349.0 L678.2 347.8 L678.6 345.1 L679.0 349.1 L679.4 345.4 L679.8 345.6 L680.2 347.1 L680.6 348.8 L681.0 348.1 L681.4 348.8 L681.8 346.9 L682.2 347.3 L682.6 345.9 L683.0 347.1 L683.4 348.5 L683.8 347.2 L684.2 348.3 L684.6 346.7 L685.0 346.7 L685.4 347.7 L685.8 347.3 L686.2 348.5 L686.6 347.9 L687.0 350.2 L687.4 347.3 L687.8 347.3 L688.2 346.0 L688.6 347.6 L689.0 348.6 L689.4 346.5 L689.8 347.5 L690.2 348.7 L690.6 347.4 L691.0 346.8 L691.4 349.1 L691.8 347.7 L692.2 348.2 L692.6 349.4 L693.0 349.3 L693.4 347.1 L693.8 346.8 L694.2 348.0 L694.6 347.4 L695.0 344.8 L695.4 349.5 L695.8 347.6 L696.2 348.7 L696.6 345.8 L697.0 349.5 L697.4 346.7 L697.8 347.4 L698.2 345.5 L698.6 347.3 L699.0 347.3 L699.4 347.3 L699.8 348.3 L700.2 347.7 L700.6 349.1 L701.0 346.9 L701.4 346.1 L701.8 347.6 L702.2 348.5 L702.6 349.5 L703.0 348.8 L703.4 345.0 L703.8 348.2 L704.2 349.8 L704.6 347.7 L705.0 346.8 L705.4 348.1 L705.8 346.8 L706.2 348.6 L706.6 347.6 L707.0 349.7 L707.4 348.3 L707.8 346.5 L708.2 348.5 L708.6 349.0 L709.0 346.7 L709.4 347.0 L709.8 344.1 L710.2 349.0 L710.6 346.7 L711.0 344.4 L711.4 344.9 L711.8 347.3 L712.2 348.7 L712.6 347.5 L713.0 348.3 L713.4 345.9 L713.8 345.6 L714.2 348.9 L714.6 348.3 L715.0 347.6 L715.4 349.5 L715.8 346.2 L716.2 347.0 L716.6 349.1 L717.0 350.4 L717.4 347.6 L717.8 350.1 L718.2 346.7 L718.6 348.1 L719.0 347.3 L719.4 345.2 L719.8 348.0 L720.2 349.0 L720.6 347.4 L721.0 347.5 L721.4 349.7 L721.8 345.7 L722.2 345.4 L722.6 346.6 L723.0 345.8 L723.4 349.6 L723.8 348.1 L724.2 346.3 L724.6 346.7 L725.0 351.9 L725.4 346.7 L725.8 346.5 L726.2 348.1 L726.6 348.6 L727.0 347.9 L727.4 346.2 L727.8 345.9 L728.2 348.5 L728.6 347.5 L729.0 345.1 L729.4 349.4 L729.8 348.8 L730.2 347.2 L730.6 347.2 L731.0 347.9 L731.4 346.6 L731.8 345.6 L732.2 348.1 L732.6 345.4 L733.0 348.2 L733.4 345.4 L733.8 347.5 L734.2 347.4 L734.6 350.3 L735.0 346.0 L735.4 345.5 L735.8 346.6 L736.2 345.9 L736.6 346.7 L737.0 348.2 L737.4 348.8 L737.8 350.1 L738.2 346.5 L738.6 351.6 L739.0 350.6 L739.4 347.3 L739.8 344.2 L740.2 347.5 L740.6 347.7 L741.0 344.2 L741.4 347.7 L741.8 347.3 L742.2 346.4 L742.6 348.5 L743.0 349.1 L743.4 346.9 L743.8 347.9 L744.2 346.6 L744.6 346.4 L745.0 347.7 L745.4 348.4 L745.8 346.8 L746.2 344.3 L746.6 348.5 L747.0 345.2 L747.4 347.8 L747.8 350.3 L748.2 347.6 L748.6 345.8 L749.0 345.4 L749.4 349.4 L749.8 347.6 L750.2 348.4 L750.6 349.0 L751.0 347.5 L751.4 347.1 L751.8 346.2 L752.2 343.0 L752.6 345.3 L753.0 347.5 L753.4 347.3 L753.8 348.2 L754.2 347.4 L754.6 347.8 L755.0 348.8 L755.4 346.3 L755.8 347.2 L756.2 345.2 L756.6 349.1 L757.0 347.7 L757.4 348.3 L757.8 349.9 L758.2 349.2 L758.6 347.5 L759.0 348.8 L759.4 345.5 L759.8 348.3 L760.2 347.8 L760.6 345.2 L761.0 349.6 L761.4 346.5 L761.8 348.6 L762.2 347.0 L762.6 349.1 L763.0 349.6 L763.4 346.4 L763.8 345.3 L764.2 347.4 L764.6 348.9 L765.0 347.0 L765.4 346.7 L765.8 348.3 L766.2 343.5 L766.6 346.6 L767.0 345.5 L767.4 348.0 L767.8 346.5 L768.2 345.9 L768.6 347.1 L769.0 345.4 L769.4 347.6 L769.8 346.6 L770.2 347.0 L770.6 346.5 L771.0 349.0 L771.4 347.4 L771.8 348.4 L772.2 348.3 L772.6 346.4 L773.0 348.5 L773.4 348.1 L773.8 348.1 L774.2 347.0 L774.6 347.0 L775.0 348.8 L775.4 350.9 L775.8 346.4 L776.2 348.4 L776.6 347.1 L777.0 348.8 L777.4 348.3 L777.8 349.2 L778.2 343.4 L778.6 346.7 L779.0 346.1 L779.4 347.4 L779.8 346.5 L780.2 346.6 L780.6 348.6 L781.0 350.5 L781.4 343.4 L781.8 347.1 L782.2 348.1 L782.6 347.6 L783.0 347.1 L783.4 345.6 L783.8 346.2 L784.2 348.7 L784.6 349.2 L785.0 347.7 L785.4 346.3 L785.8 347.7 L786.2 342.6 L786.6 337.5 L787.0 332.5 L787.4 321.4 L787.8 304.2 L788.2 287.1 L788.6 269.9 L789.0 257.0 L789.4 257.0 L789.8 271.6 L790.2 291.1 L790.6 310.5 L791.0 330.0 L791.4 335.9 L791.8 341.7 L792.2 347.6 L792.6 346.6 L793.0 346.7 L793.4 347.4 L793.8 347.1 L794.2 347.8 L794.6 346.7 L795.0 348.7 L795.4 349.1 L795.8 346.9 L796.2 345.5 L796.6 348.7 L797.0 349.3 L797.4 347.4 L797.8 345.7 L798.2 348.0 L798.6 349.9 L799.0 344.8 L799.4 348.3 L799.8 347.1 L800.2 346.3 L800.6 348.3 L801.0 345.7 L801.4 348.0 L801.8 349.6 L802.2 347.9 L802.6 346.3 L803.0 344.9 L803.4 345.7 L803.8 344.8 L804.2 350.0 L804.6 347.2 L805.0 346.0 L805.4 345.7 L805.8 346.0 L806.2 347.0 L806.6 345.5 L807.0 349.8 L807.4 346.0 L807.8 345.8 L808.2 347.3 L808.6 348.9 L809.0 348.5 L809.4 345.7 L809.8 346.7 L810.2 346.4 L810.6 346.8 L811.0 346.2 L811.4 344.3 L811.8 343.7 L812.2 345.5 L812.6 344.5 L813.0 345.8 L813.4 344.7 L813.8 343.9 L814.2 344.1 L814.6 343.7 L815.0 343.7 L815.4 344.1 L815.8 342.5 L816.2 342.0 L816.6 343.1 L817.0 341.9 L817.4 341.2 L817.8 340.5 L818.2 339.2 L818.6 338.9 L819.0 337.0 L819.4 336.7 L819.8 335.3 L820.2 334.2 L820.6 334.4 L821.0 333.5 L821.4 331.1 L821.8 330.7 L822.2 330.6 L822.6 329.8 L823.0 327.2 L823.4 325.8 L823.8 323.5 L824.2 324.2 L824.6 321.4 L825.0 320.0 L825.4 318.3 L825.8 316.8 L826.2 314.6 L826.6 313.0 L827.0 311.4 L827.4 302.0 L827.8 290.0 L828.2 278.0 L828.6 269.1 L829.0 260.2 L829.4 251.2 L829.8 248.0 L830.2 246.7 L830.6 245.4 L831.0 244.0 L831.4 242.7 L831.8 241.4 L832.2 240.1 L832.6 238.7 L833.0 237.4 L833.4 236.6 L833.8 235.8 L834.2 235.0 L834.6 234.2 L835.0 233.4 L835.4 232.6 L835.8 231.8 L836.2 231.0 L836.6 230.2 L837.0 229.4 L837.4 228.6 L837.8 227.8 L838.2 227.0 L838.6 226.2 L839.0 225.4 L839.4 224.6 L839.8 223.8 L840.2 222.2 L840.6 219.8 L841.0 217.4 L841.4 214.9 L841.8 212.5 L842.2 210.1 L842.6 207.7 L843.0 205.3 L843.4 202.9 L843.8 200.4 L844.2 198.0 L844.6 195.6 L845.0 190.4 L845.4 184.3 L845.8 178.3 L846.2 172.2 L846.6 166.1 L847.0 160.0 L847.4 147.1 L847.8 134.3 L848.2 121.4 L848.6 119.2 L849.0 117.0 L849.4 114.8 L849.8 112.6 L850.2 106.2 L850.6 98.5 L851.0 90.7 L851.4 83.0 L851.8 75.2 L852.2 67.5 L852.6 59.3 L853.0 51.2 L853.4 43.0 L853.8 47.1 L854.2 55.3 L854.6 63.4 L855.0 71.7 L855.4 80.0 L855.8 88.3 L856.2 96.7 L856.6 105.0 L857.0 112.0 L857.4 119.0 L857.8 126.0 L858.2 133.0 L858.6 142.0 L859.0 151.0 L859.4 160.0 L859.8 163.5 L860.2 167.0 L860.6 170.5 L861.0 173.9 L861.4 177.4 L861.8 180.9 L862.2 184.4 L862.6 187.9 L863.0 191.5 L863.4 195.4 L863.8 199.4 L864.2 203.3 L864.6 207.2 L865.0 211.2 L865.4 215.1 L865.8 219.0 L866.2 221.6 L866.6 222.7 L867.0 223.8 L867.4 224.9 L867.8 226.0 L868.2 227.2 L868.6 228.3 L869.0 229.4 L869.4 230.5 L869.8 231.6 L870.2 232.8 L870.6 233.9 L871.0 235.0 L871.4 236.1 L871.8 237.2 L872.2 238.4 L872.6 239.5 L873.0 240.6 L873.4 241.7 L873.8 244.5 L874.2 247.8 L874.6 251.1 L875.0 254.4 L875.4 257.7 L875.8 261.0 L876.2 264.6 L876.6 268.2 L877.0 271.7 L877.4 275.3 L877.8 280.1 L878.2 288.3 L878.6 296.6 L879.0 304.8 L879.4 312.6 L879.8 318.9 L880.2 325.2 L880.6 330.1 L881.0 330.6 L881.4 331.0 L881.8 331.5 L882.2 331.9 L882.6 332.4 L883.0 332.9 L883.4 333.3 L883.8 333.8 L884.2 334.7 L884.6 335.4 L885.0 334.8 L885.4 334.5 L885.8 335.9 L886.2 337.7 L886.6 335.5 L887.0 337.0 L887.4 336.4 L887.8 338.5 L888.2 339.6 L888.6 338.5 L889.0 339.7 L889.4 341.6 L889.8 341.0 L890.2 340.6 L890.6 341.1 L891.0 341.1 L891.4 343.8 L891.8 343.1 L892.2 345.0 L892.6 345.2 L893.0 344.4 L893.4 344.9 L893.8 346.3 L894.2 346.1 L894.6 346.6 L895.0 345.4 L895.4 347.8 L895.8 346.8 L896.2 346.0 L896.6 347.7 L897.0 348.9 L897.4 352.0 L897.8 348.0 L898.2 346.5 L898.6 352.0 L899.0 348.9 L899.4 348.2 L899.8 346.9 L900.2 347.0 L900.6 351.0 L901.0 348.2 L901.4 347.7 L901.8 347.8 L902.2 351.1 L902.6 347.7 L903.0 349.6 L903.4 349.0 L903.8 349.0 L904.2 347.2 L904.6 349.7 L905.0 351.2 L905.4 348.5 L905.8 347.1 L906.2 346.5 L906.6 348.9 L907.0 348.2 L907.4 348.4 L907.8 348.6 L908.2 346.2 L908.6 349.9 L909.0 349.0 L909.4 348.5 L909.8 349.0 L910.2 350.1 L910.6 348.7 L911.0 347.2 L911.4 350.5 L911.8 347.9 L912.2 347.4 L912.6 346.1 L913.0 348.6 L913.4 346.9 L913.8 347.8 L914.2 349.3 L914.6 348.6 L915.0 343.3 L915.4 338.0 L915.8 332.7 L916.2 321.4 L916.6 304.2 L917.0 287.1 L917.4 269.9 L917.8 257.0 L918.2 257.0 L918.6 271.6 L919.0 291.1 L919.4 310.5 L919.8 330.0 L920.2 335.3 L920.6 340.6 L921.0 345.9 L921.4 348.6 L921.8 348.2 L922.2 349.0 L922.6 348.4 L923.0 348.4 L923.4 347.9 L923.8 349.1 L924.2 349.0 L924.6 347.4 L925.0 349.8 L925.4 349.9 L925.8 349.9 L926.2 348.4 L926.6 348.3 L927.0 346.7 L927.4 349.8 L927.8 345.2 L928.2 348.0 L928.6 348.1 L929.0 350.0 L929.4 348.6 L929.8 347.1 L930.2 346.3 L930.6 347.4 L931.0 348.8 L931.4 348.7 L931.8 348.3 L932.2 347.5 L932.6 348.3 L933.0 350.2 L933.4 346.8 L933.8 348.7 L934.2 351.2 L934.6 349.5 L935.0 347.9 L935.4 349.7 L935.8 347.4 L936.2 348.6 L936.6 351.1 L937.0 351.6 L937.4 345.9 L937.8 349.7 L938.2 351.7 L938.6 347.7 L939.0 349.0 L939.4 351.0 L939.8 347.8 L940.2 349.3 L940.6 348.5 L941.0 345.5 L941.4 349.2 L941.8 348.3 L942.2 350.1 L942.6 351.9 L943.0 349.7 L943.4 348.0 L943.8 349.3 L944.2 348.9 L944.6 350.2 L945.0 346.3 L945.4 346.7 L945.8 345.3 L946.2 349.6 L946.6 348.6 L947.0 347.6 L947.4 347.4 L947.8 347.7 L948.2 347.1 L948.6 348.1 L949.0 347.8 L949.4 350.8 L949.8 349.1 L950.2 347.3 L950.6 347.7 L951.0 350.5 L951.4 349.3 L951.8 349.1 L952.2 349.8 L952.6 351.1 L953.0 346.7 L953.4 347.4 L953.8 345.8 L954.2 349.4 L954.6 348.0 L955.0 347.5 L955.4 347.4 L955.8 349.7 L956.2 348.4 L956.6 347.8 L957.0 350.6 L957.4 346.9 L957.8 346.6 L958.2 352.8 L958.6 348.0 L959.0 347.7 L959.4 347.4 L959.8 348.4 L960.2 349.9 L960.6 349.8 L961.0 349.5 L961.4 348.2 L961.8 346.2 L962.2 349.1 L962.6 351.0 L963.0 350.3 L963.4 348.3 L963.8 349.9 L964.2 348.0 L964.6 348.5 L965.0 346.6 L965.4 348.1 L965.8 348.8 L966.2 348.3 L966.6 349.8 L967.0 351.6 L967.4 350.7 L967.8 348.1 L968.2 347.4 L968.6 347.6 L969.0 347.0 L969.4 348.7 L969.8 349.3 L970.2 348.9 L970.6 348.9 L971.0 348.9 L971.4 348.4 L971.8 347.4 L972.2 351.4 L972.6 350.3 L973.0 347.1 L973.4 347.2 L973.8 347.7 L974.2 348.7 L974.6 350.6 L975.0 350.2 L975.4 350.3 L975.8 350.3 L976.2 350.4 L976.6 349.8 L977.0 349.3 L977.4 348.4 L977.8 345.8 L978.2 348.4 L978.6 351.5 L979.0 347.7 L979.4 347.6 L979.8 350.2 L980.2 348.7 L980.6 347.8 L981.0 351.1 L981.4 349.6 L981.8 349.8 L982.2 347.7 L982.6 349.4 L983.0 349.2 L983.4 349.8 L983.8 350.4 L984.2 350.4 L984.6 348.9 L985.0 349.7 L985.4 346.8 L985.8 349.6 L986.2 349.7 L986.6 348.0 L987.0 347.4 L987.4 348.5 L987.8 346.7 L988.2 349.1 L988.6 349.1 L989.0 347.1 L989.4 348.7 L989.8 350.3 L990.2 350.3 L990.6 350.2 L991.0 348.4 L991.4 348.1 L991.8 348.0 L992.2 349.5 L992.6 352.4 L993.0 350.8 L993.4 351.1 L993.8 350.8 L994.2 346.0 L994.6 348.3 L995.0 347.9 L995.4 350.6 L995.8 351.3 L996.2 347.5 L996.6 348.7 L997.0 349.5 L997.4 347.8 L997.8 347.6 L998.2 347.5 L998.6 350.0 L999.0 347.1 L999.4 350.4 L999.8 348.7 L1000.2 349.8 L1000.6 351.1 L1001.0 347.5 L1001.4 347.3 L1001.8 349.3 L1002.2 346.9 L1002.6 347.4 L1003.0 348.4 L1003.4 348.9 L1003.8 346.6 L1004.2 348.0 L1004.6 349.5 L1005.0 350.7 L1005.4 345.5 L1005.8 350.7 L1006.2 350.0 L1006.6 346.9 L1007.0 346.3 L1007.4 349.3 L1007.8 347.9 L1008.2 348.8 L1008.6 350.0 L1009.0 348.0 L1009.4 348.9 L1009.8 349.4 L1010.2 350.0 L1010.6 351.4 L1011.0 351.3 L1011.4 349.0 L1011.8 348.2 L1012.2 352.4 L1012.6 349.6 L1013.0 349.3 L1013.4 346.8 L1013.8 349.8 L1014.2 347.4 L1014.6 347.9 L1015.0 346.5 L1015.4 347.8 L1015.8 348.7 L1016.2 346.2 L1016.6 347.2 L1017.0 348.5 L1017.4 346.6 L1017.8 346.6 L1018.2 347.3 L1018.6 346.4 L1019.0 349.6 L1019.4 347.0 L1019.8 349.8 L1020.2 350.1 L1020.6 346.7 L1021.0 348.7 L1021.4 347.8 L1021.8 346.8 L1022.2 348.1 L1022.6 348.2 L1023.0 349.7 L1023.4 350.2 L1023.8 346.8 L1024.2 348.0 L1024.6 349.4 L1025.0 350.5 L1025.4 344.7 L1025.8 350.6 L1026.2 348.3 L1026.6 351.0 L1027.0 347.9 L1027.4 347.3 L1027.8 348.7 L1028.2 350.5 L1028.6 348.6 L1029.0 344.8 L1029.4 349.7 L1029.8 346.0 L1030.2 347.0 L1030.6 346.7 L1031.0 345.7 L1031.4 346.6 L1031.8 347.0 L1032.2 347.6 L1032.6 348.5 L1033.0 348.1 L1033.4 346.2 L1033.8 348.3 L1034.2 350.2 L1034.6 350.1 L1035.0 348.8 L1035.4 349.6 L1035.8 350.0 L1036.2 350.8 L1036.6 351.3 L1037.0 348.1 L1037.4 348.2 L1037.8 351.0 L1038.2 351.1 L1038.6 351.1 L1039.0 344.9 L1039.4 348.2 L1039.8 343.4 L1040.2 349.8 L1040.6 348.7 L1041.0 348.7 L1041.4 348.4 L1041.8 350.7 L1042.2 348.1 L1042.6 350.3 L1043.0 349.5 L1043.4 349.2 L1043.8 349.3 L1044.2 348.8 L1044.6 346.9 L1045.0 349.7 L1045.4 349.7 L1045.8 348.4 L1046.2 349.8 L1046.6 350.0 L1047.0 346.5 L1047.4 348.4 L1047.8 347.9 L1048.2 347.2 L1048.6 349.1 L1049.0 347.3 L1049.4 347.9 L1049.8 349.0 L1050.2 349.2 L1050.6 349.1 L1051.0 352.2 L1051.4 347.8 L1051.8 349.0 L1052.2 346.7 L1052.6 349.4 L1053.0 350.4 L1053.4 350.5 L1053.8 347.6 L1054.2 348.2 L1054.6 350.6 L1055.0 348.5 L1055.4 350.1 L1055.8 347.0 L1056.2 350.8 L1056.6 350.2 L1057.0 349.3 L1057.4 347.3 L1057.8 348.3 L1058.2 348.8 L1058.6 349.0 L1059.0 348.4 L1059.4 348.3 L1059.8 348.9 L1060.2 350.8 L1060.6 345.4 L1061.0 346.4 L1061.4 346.1 L1061.8 347.5 L1062.2 345.8 L1062.6 349.5 L1063.0 348.8 L1063.4 348.2 L1063.8 347.5 L1064.2 348.9 L1064.6 348.9 L1065.0 349.1 L1065.4 347.4 L1065.8 349.6 L1066.2 346.3 L1066.6 350.6 L1067.0 343.7 L1067.4 347.7 L1067.8 346.7 L1068.2 349.9 L1068.6 346.2 L1069.0 351.5 L1069.4 346.1 L1069.8 351.8 L1070.2 349.3 L1070.6 348.6 L1071.0 349.3 L1071.4 352.1 L1071.8 350.0 L1072.2 345.0 L1072.6 350.5 L1073.0 349.0 L1073.4 346.0 L1073.8 349.8 L1074.2 346.7 L1074.6 348.6 L1075.0 336.5 L1075.4 324.3 L1075.8 312.2 L1076.2 300.0 L1076.6 292.9 L1077.0 285.8 L1077.4 282.6 L1077.8 280.7 L1078.2 278.9 L1078.6 277.0 L1079.0 267.1 L1079.4 257.3 L1079.8 247.4 L1080.2 237.6 L1080.6 227.8 L1081.0 218.0 L1081.4 208.2 L1081.8 207.0 L1082.2 208.1 L1082.6 217.2 L1083.0 226.3 L1083.4 235.4 L1083.8 244.0 L1084.2 252.0 L1084.6 260.0 L1085.0 268.0 L1085.4 273.1 L1085.8 275.4 L1086.2 277.6 L1086.6 279.9 L1087.0 283.9 L1087.4 289.8 L1087.8 295.6 L1088.2 303.6 L1088.6 317.9 L1089.0 332.3 L1089.4 346.6 L1089.8 347.4 L1090.2 349.2 L1090.6 349.9 L1091.0 347.9 L1091.4 350.2 L1091.8 347.8 L1092.2 348.7 L1092.6 351.6 L1093.0 349.2 L1093.4 346.7 L1093.8 351.0 L1094.2 350.2 L1094.6 350.4 L1095.0 348.9 L1095.4 349.2 L1095.8 348.2 L1096.2 347.5 L1096.6 351.0 L1097.0 348.0 L1097.4 347.8 L1097.8 347.9 L1098.2 351.6 L1098.6 350.0 L1099.0 348.0 L1099.4 348.5 L1099.8 349.4 L1100.2 350.0 L1100.6 346.0 L1101.0 350.0 L1101.4 348.3 L1101.8 347.5 L1102.2 348.0 L1102.6 349.9 L1103.0 351.4 L1103.4 348.8 L1103.8 349.5 L1104.2 347.3 L1104.6 349.4 L1105.0 349.9 L1105.4 346.2 L1105.8 347.8 L1106.2 349.9 L1106.6 345.8 L1107.0 348.0 L1107.4 349.6 L1107.8 345.9 L1108.2 348.0" stroke="#000" stroke-width="2.2"/>
</g>
<rect x="599.0" y="40.9" width="508.79999999999995" height="350.70000000000005" fill="none" stroke="#000" stroke-width="1.75"/>
<g stroke="#000" stroke-width="1.5">
<line x1="641.1" y1="391.6" x2="641.1" y2="386.1"/>
<line x1="641.1" y1="40.9" x2="641.1" y2="46.4"/>
<line x1="747.3" y1="391.6" x2="747.3" y2="386.1"/>
<line x1="747.3" y1="40.9" x2="747.3" y2="46.4"/>
<line x1="853.5" y1="391.6" x2="853.5" y2="386.1"/>
<line x1="853.5" y1="40.9" x2="853.5" y2="46.4"/>
<line x1="959.7" y1="391.6" x2="959.7" y2="386.1"/>
<line x1="959.7" y1="40.9" x2="959.7" y2="46.4"/>
<line x1="1065.9" y1="391.6" x2="1065.9" y2="386.1"/>
<line x1="1065.9" y1="40.9" x2="1065.9" y2="46.4"/>
<line x1="599.0" y1="90.5" x2="602.5" y2="90.5"/>
<line x1="1107.8" y1="90.5" x2="1104.3" y2="90.5"/>
<line x1="599.0" y1="140.5" x2="602.5" y2="140.5"/>
<line x1="1107.8" y1="140.5" x2="1104.3" y2="140.5"/>
<line x1="599.0" y1="190.5" x2="602.5" y2="190.5"/>
<line x1="1107.8" y1="190.5" x2="1104.3" y2="190.5"/>
<line x1="599.0" y1="241.2" x2="602.5" y2="241.2"/>
<line x1="1107.8" y1="241.2" x2="1104.3" y2="241.2"/>
<line x1="599.0" y1="291.4" x2="605.0" y2="291.4"/>
<line x1="1107.8" y1="291.4" x2="1101.8" y2="291.4"/>
<line x1="599.0" y1="341.6" x2="602.5" y2="341.6"/>
<line x1="1107.8" y1="341.6" x2="1104.3" y2="341.6"/>
</g>
<line x1="918.7" y1="78" x2="965.7" y2="78" stroke="#ff0000" stroke-width="2.1"/>
<line x1="918.7" y1="123.3" x2="965.7" y2="123.3" stroke="#000" stroke-width="2.1"/>
<text class="k" font-size="39.2" x="968.8" y="91">Input</text>
<text class="k" font-size="39.2" x="968.3" y="136.3">Output</text>
<text class="k" font-size="42.5" x="853" y="33.8" text-anchor="middle">(e)</text>
<g class="g" font-size="40.5" text-anchor="middle">
<text x="641.3" y="439.8">-20</text>
<text x="747.3" y="439.8">-10</text>
<text x="853.7" y="439.8">0</text>
<text x="959.7" y="439.8">10</text>
<text x="1065.8" y="439.8">20</text>
</g>
<text class="g" font-size="39" x="532.3" y="60.8">10</text>
<text class="g" font-size="32" x="571.8" y="41.6">0</text>
<text class="g" font-size="39" x="522.2" y="311.7">10</text>
<text class="g" font-size="32.5" x="560.6" y="292.7">-5</text>
<text class="g" font-size="43" x="853.5" y="488.2" text-anchor="middle">Time (ps)</text>
<text class="g" font-size="41.5" transform="translate(520.4 218.3) rotate(-90)" text-anchor="middle">Intensity (a.u.)</text>
</svg>
</body></html>
